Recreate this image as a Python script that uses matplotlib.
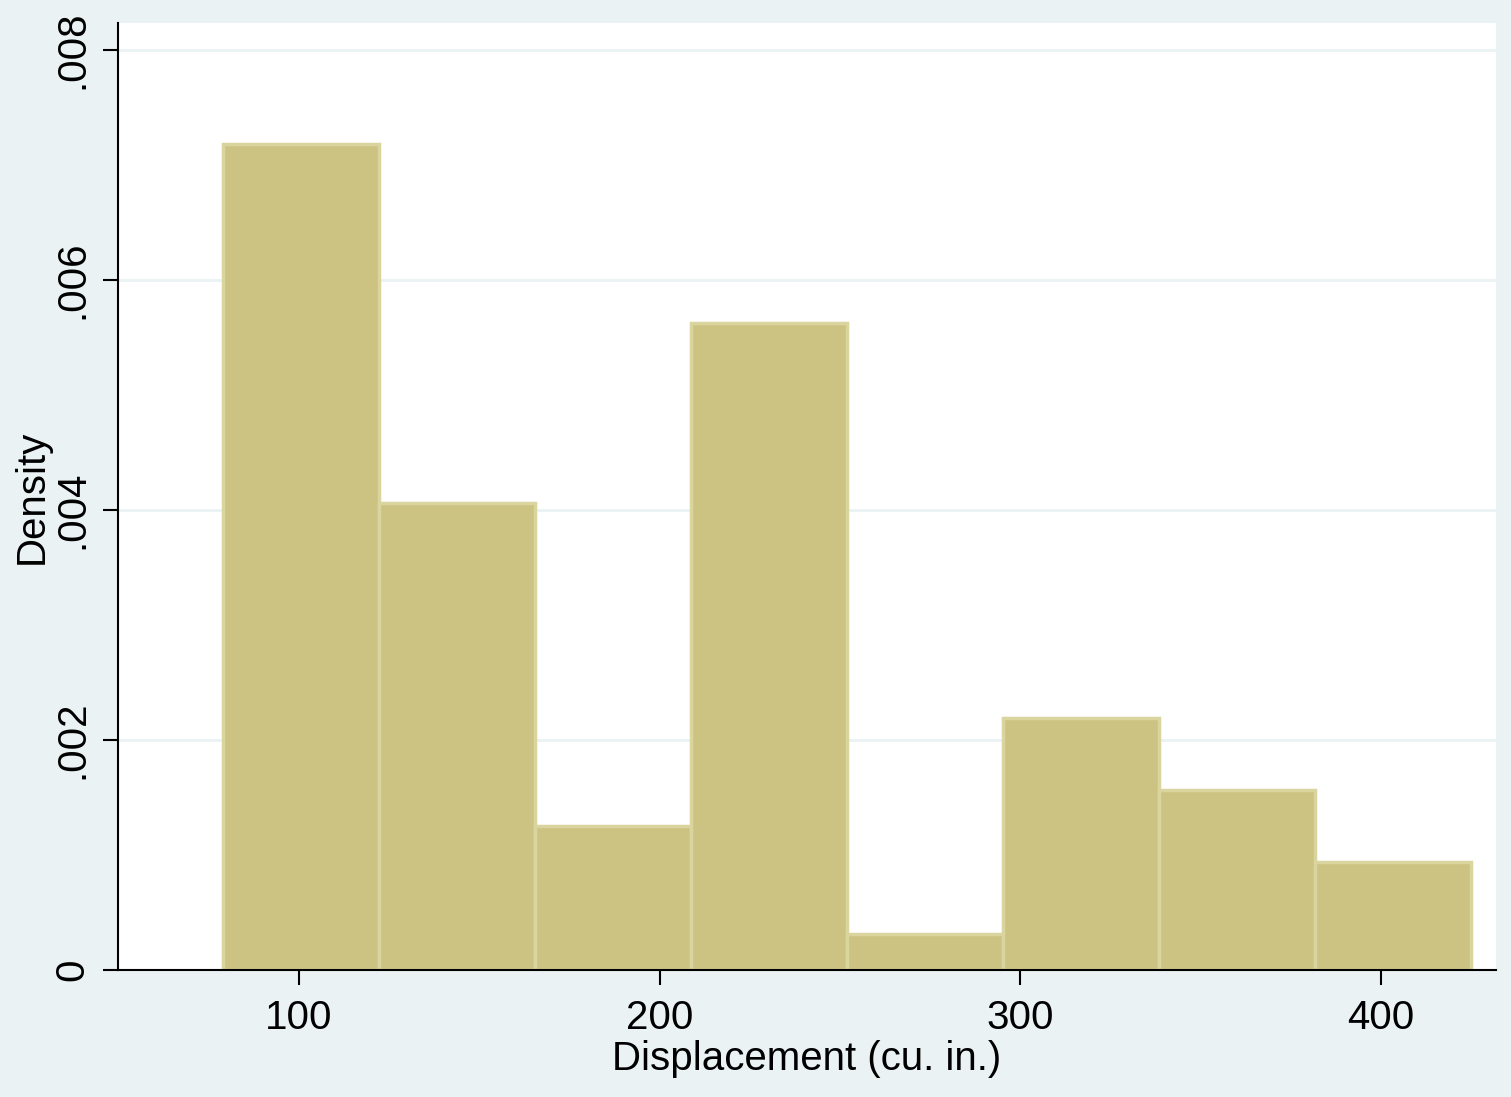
import matplotlib
matplotlib.use("Agg")
import matplotlib.pyplot as plt
import numpy as np

# histogram of displacement: bin edges and counts (n = 74)
bin_edges = [79.0, 122.25, 165.5, 208.75, 252.0, 295.25, 338.5, 381.75, 425.0]
counts = [23, 13, 4, 18, 1, 7, 5, 3]
x_ticks = [100, 200, 300, 400]
y_ticks = [0, 0.002, 0.004, 0.006, 0.008]
y_ticklabels = ["0", ".002", ".004", ".006", ".008"]

bg = "#EAF2F3"
fill = "#CCC382"
edge = "#DAD49F"

plt.rcParams["font.family"] = ["Liberation Sans", "DejaVu Sans"]

edges = np.array(bin_edges)
widths = np.diff(edges)
density = np.array(counts) / (sum(counts) * widths)

fig = plt.figure(figsize=(15.11, 10.97), dpi=100, facecolor=bg)
ax = fig.add_axes([0.0781, 0.1158, 0.9119, 0.8632])
ax.set_facecolor("white")

ax.bar(edges[:-1], density, width=widths, align="edge",
       color=fill, edgecolor=edge, linewidth=2.5, zorder=2)

ax.set_xlim(49.8, 431.9)
ax.set_ylim(0, 0.008234)

ax.set_yticks(y_ticks)
ax.set_yticklabels(y_ticklabels, rotation=90, va="center")
ax.set_xticks(x_ticks)
ax.grid(axis="y", color=bg, linewidth=2, zorder=0)
ax.set_axisbelow(True)

for s in ["top", "right"]:
    ax.spines[s].set_visible(False)
for s in ["left", "bottom"]:
    ax.spines[s].set_linewidth(1.5)
    ax.spines[s].set_color("black")

ax.tick_params(axis="both", length=11, width=1.5, labelsize=29, colors="black")
ax.tick_params(axis="y", pad=8)
ax.tick_params(axis="x", pad=10)

ax.set_xlabel("Displacement (cu. in.)", fontsize=29, labelpad=2)
ax.set_ylabel("Density", fontsize=29, labelpad=2)

fig.savefig("out.png", dpi=100, facecolor=bg)
